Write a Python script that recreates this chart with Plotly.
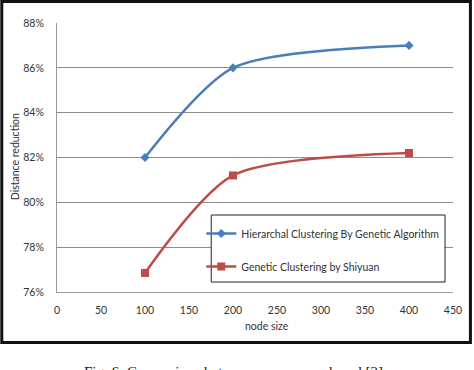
import plotly.graph_objects as go

node_sizes = [100, 200, 400]
hierarchal = [82.0, 86.0, 87.0]
shiyuan = [76.85, 81.2, 82.2]
series_names = ["Hierarchal Clustering By Genetic Algorithm", "Genetic Clustering by Shiyuan"]
x_ticks = [0, 50, 100, 150, 200, 250, 300, 350, 400, 450]
y_ticks = [76, 78, 80, 82, 84, 86, 88]
y_tick_labels = ["76%", "78%", "80%", "82%", "84%", "86%", "88%"]

W, H = 474, 370
L, R, T, B = 57, 19, 23, 78
PW, PH = W - L - R, H - T - B


def px(x):
    return (x - L) / PW


def py(y):
    return (H - B - y) / PH


FONT = "Lato"
TXT = "#333333"

fig = go.Figure()
fig.add_trace(go.Scatter(
    x=node_sizes, y=hierarchal, name=series_names[0], mode="lines+markers",
    line=dict(color="#4A7EBB", width=2.5, shape="spline", smoothing=0.75),
    marker=dict(symbol="diamond", size=7, color="#4A7EBB"),
    legendgroup="a"))
fig.add_trace(go.Scatter(
    x=node_sizes, y=shiyuan, name=series_names[1], mode="lines+markers",
    line=dict(color="#BE4B48", width=2.5, shape="spline", smoothing=0.75),
    marker=dict(symbol="square", size=8, color="#BE4B48"),
    legendgroup="b"))

fig.update_layout(
    width=W, height=H,
    margin=dict(l=L, r=R, t=T, b=B, pad=0),
    paper_bgcolor="white", plot_bgcolor="white",
    font=dict(family=FONT, size=10.5, color=TXT),
    showlegend=True,
    legend=dict(x=px(202), y=py(219), xanchor="left", yanchor="top",
                bgcolor="rgba(0,0,0,0)", borderwidth=0,
                tracegroupgap=14, font=dict(family=FONT, size=10.5, color=TXT)),
    xaxis=dict(range=[0, 450], tickvals=x_ticks, showgrid=False, zeroline=False,
               showline=True, linecolor="#9a9a9a", linewidth=1, ticks="",
               ticklabelstandoff=8, fixedrange=True),
    yaxis=dict(range=[76, 88], tickvals=y_ticks, ticktext=y_tick_labels, showgrid=True,
               gridcolor="#8c8c8c", gridwidth=1, zeroline=False,
               showline=True, linecolor="#9a9a9a", linewidth=1, ticks="",
               ticklabelstandoff=10, fixedrange=True),
    shapes=[
        dict(type="rect", xref="paper", yref="paper",
             x0=px(212), x1=px(447), y0=py(282), y1=py(215),
             fillcolor="white", line=dict(color="#222222", width=1), layer="above"),
        dict(type="rect", xref="paper", yref="paper",
             x0=px(1.5), x1=px(472.5), y0=py(342.5), y1=py(1.5),
             fillcolor="rgba(0,0,0,0)", line=dict(color="#111111", width=3), layer="above"),
    ],
    annotations=[
        dict(text="Distance reduction", textangle=-90, xref="paper", yref="paper",
             x=px(15), y=py(157), xanchor="center", yanchor="middle", showarrow=False,
             font=dict(family=FONT, size=10.5, color=TXT)),
        dict(text="node size", xref="paper", yref="paper",
             x=px(268), y=py(326), xanchor="center", yanchor="middle", showarrow=False,
             font=dict(family=FONT, size=10.5, color=TXT)),
        dict(text="Fig. 6: Comparison between our approach and [2]", xref="paper", yref="paper",
             x=px(234), y=py(362), xanchor="center", yanchor="top", showarrow=False,
             font=dict(family="Liberation Serif", size=15, color="#222222")),
    ],
)

fig.write_html("out.html", config={"displayModeBar": False},
               post_script="document.body.style.margin='0';")
